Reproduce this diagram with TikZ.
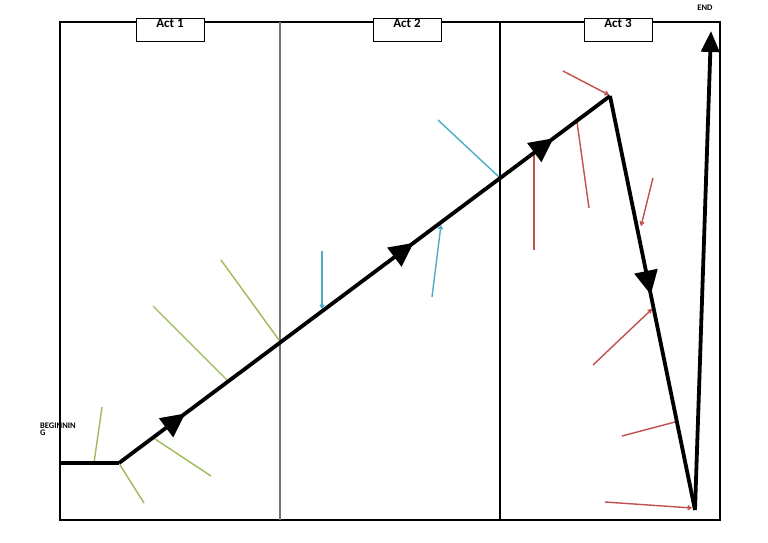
\documentclass[tikz,border=0pt]{standalone}
\usepackage{fontspec}
\setmainfont{Carlito}
\usetikzlibrary{arrows.meta,decorations.markings}
\definecolor{sgreen}{RGB}{155,187,89}
\definecolor{sblue}{RGB}{75,172,198}
\definecolor{sred}{RGB}{192,80,77}
\tikzset{
  frameline/.style={line width=1.6pt,draw=black},
  actbox/.style={draw=black,line width=1pt,fill=white,minimum width=68pt,minimum height=23pt,inner sep=0pt},
  actlabel/.style={font=\bfseries\fontsize{13}{13}\selectfont,inner sep=0pt},
  plotline/.style={line width=3.8pt,draw=black,line cap=butt,line join=miter},
  bigtip/.style={decoration={markings,mark=at position #1 with {\arrow{Triangle[length=24pt,width=23pt]}}},postaction=decorate},
  gline/.style={draw=sgreen,line width=1.4pt},
  bline/.style={draw=sblue,line width=1.4pt},
  rline/.style={draw=sred,line width=1.4pt},
  tinytip/.style={-{Straight Barb[length=3pt,width=4pt]}},
  smalllabel/.style={font=\bfseries\fontsize{8.5}{7}\selectfont,inner sep=0pt,align=left}
}
\begin{document}
\begin{tikzpicture}[x=1pt,y=-1pt]
\useasboundingbox (0,0) rectangle (768,543);
% frame
\coordinate (TL) at (60,22);
\coordinate (BR) at (720,520);
\draw[frameline] (TL) rectangle (BR);
\coordinate (d1t) at (280,22); \coordinate (d1b) at (280,520);
\coordinate (d2t) at (500,22); \coordinate (d2b) at (500,520);
\draw[draw=black!55,line width=1.2pt] (d1t) -- (d1b);
\draw[draw=black,line width=1.6pt] (d2t) -- (d2b);
% act boxes
\node[actbox] (b1) at (170,30.5) {};
\node[actbox] (b2) at (407,30.5) {};
\node[actbox] (b3) at (618,30.5) {};
\node[actlabel] (a1) at (170,23) {Act 1};
\node[actlabel] (a2) at (407,23) {Act 2};
\node[actlabel] (a3) at (618,23) {Act 3};
% labels
\node[smalllabel,anchor=north west] (beg) at (40,423) {BEGINNIN\\G};
\node[smalllabel] (endl) at (705,8) {END};
% plot points
\coordinate (p0) at (60,463);
\coordinate (p1) at (119,463);
\coordinate (p2) at (610,96);
\coordinate (p3) at (695,510);
\coordinate (p4) at (711,31);
% green lines (act 1)
\coordinate (g1a) at (102,407); \coordinate (g1b) at (94,463);
\coordinate (g2a) at (120,465); \coordinate (g2b) at (144,503);
\coordinate (g3a) at (155,439); \coordinate (g3b) at (211,476);
\coordinate (g4a) at (153,306); \coordinate (g4b) at (227,380);
\coordinate (g5a) at (221,260); \coordinate (g5b) at (279,340);
\draw[gline] (g1a) -- (g1b);
\draw[gline] (g2a) -- (g2b);
\draw[gline] (g3a) -- (g3b);
\draw[gline] (g4a) -- (g4b);
\draw[gline] (g5a) -- (g5b);
% blue lines (act 2)
\coordinate (c1a) at (322,251); \coordinate (c1b) at (322,309);
\coordinate (c2a) at (432,297); \coordinate (c2b) at (441,225);
\coordinate (c3a) at (438,120); \coordinate (c3b) at (499,177);
\draw[bline,tinytip] (c1a) -- (c1b);
\draw[bline,tinytip] (c2a) -- (c2b);
\draw[bline] (c3a) -- (c3b);
% red lines (act 3)
\coordinate (r1a) at (563,71);  \coordinate (r1b) at (609,95);
\coordinate (r2a) at (577,122); \coordinate (r2b) at (589,208);
\coordinate (r3a) at (534,250); \coordinate (r3b) at (534,155);
\coordinate (r4a) at (653,178); \coordinate (r4b) at (641,226);
\coordinate (r5a) at (593,365); \coordinate (r5b) at (652,309);
\coordinate (r6a) at (622,436); \coordinate (r6b) at (675,422);
\coordinate (r7a) at (605,502); \coordinate (r7b) at (692,508);
\draw[rline,tinytip] (r1a) -- (r1b);
\draw[rline] (r2a) -- (r2b);
\draw[rline] (r3a) -- (r3b);
\draw[rline,tinytip] (r4a) -- (r4b);
\draw[rline,tinytip] (r5a) -- (r5b);
\draw[rline] (r6a) -- (r6b);
\draw[rline,tinytip] (r7a) -- (r7b);
% main plot line
\draw[plotline] (p0) -- (p1);
\draw[plotline,
  decoration={markings,
    mark=at position 0.135 with {\arrow{Triangle[length=24pt,width=23pt]}},
    mark=at position 0.60 with {\arrow{Triangle[length=24pt,width=23pt]}},
    mark=at position 0.885 with {\arrow{Triangle[length=24pt,width=23pt]}}},
  postaction=decorate] (p1) -- (p2);
\draw[plotline,bigtip=0.48] (p2) -- (p3);
\draw[plotline,-{Triangle[length=21pt,width=18pt]}] (p3) -- (p4);
\end{tikzpicture}
\end{document}
